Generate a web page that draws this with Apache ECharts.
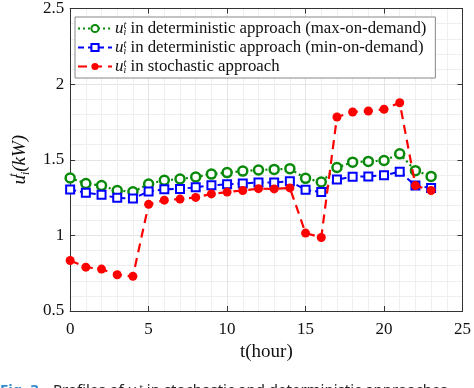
<!DOCTYPE html>
<html>
<head>
<meta charset="utf-8">
<script src="https://cdn.jsdelivr.net/npm/echarts@6/dist/echarts.min.js"></script>
<style>html,body{margin:0;padding:0;background:#fff;}#c{width:474px;height:388px;}</style>
</head>
<body>
<div id="c"></div>
<script>
const hours = [0,1,2,3,4,5,6,7,8,9,10,11,12,13,14,15,16,17,18,19,20,21,22,23];
const detMax = [1.379,1.343,1.329,1.297,1.288,1.340,1.364,1.373,1.386,1.405,1.415,1.425,1.432,1.436,1.441,1.377,1.353,1.449,1.484,1.489,1.495,1.539,1.428,1.390];
const detMin = [1.303,1.281,1.268,1.248,1.244,1.290,1.305,1.307,1.318,1.331,1.338,1.343,1.350,1.350,1.358,1.301,1.286,1.369,1.388,1.390,1.397,1.421,1.329,1.314];
const stoch = [0.834,0.790,0.777,0.740,0.729,1.205,1.233,1.240,1.251,1.274,1.286,1.297,1.309,1.307,1.314,1.015,0.986,1.783,1.816,1.822,1.834,1.877,1.329,1.297];
const xTicks = [0,5,10,15,20,25];
const yTicks = [0.5,1,1.5,2,2.5];
const legendNames = ['max','min','sto'];
const legendTexts = {
  max: ' in deterministic approach (max-on-demand)',
  min: ' in deterministic approach (min-on-demand)',
  sto: ' in stochastic approach'
};

const SERIF = '"Liberation Serif","DejaVu Serif",serif';
const LH = 17;
const richMath = {
  u: {fontFamily: SERIF, fontStyle: 'italic', fontSize: 17, color: '#111', verticalAlign: 'middle', lineHeight: LH},
  sup: {fontFamily: SERIF, fontStyle: 'italic', fontSize: 10, color: '#111', verticalAlign: 'top', width: 0, align: 'left', lineHeight: LH},
  sub: {fontFamily: SERIF, fontStyle: 'italic', fontSize: 10, color: '#111', verticalAlign: 'bottom', lineHeight: LH},
  t: {fontFamily: SERIF, fontSize: 16.8, color: '#111', verticalAlign: 'middle', lineHeight: LH}
};
const richY = {
  u: Object.assign({}, richMath.u, {fontSize: 19, lineHeight: 24}),
  sup: Object.assign({}, richMath.sup, {fontSize: 12, lineHeight: 24}),
  sub: Object.assign({}, richMath.sub, {fontSize: 12, lineHeight: 24}),
  t: Object.assign({}, richMath.t, {fontSize: 19, fontStyle: 'italic', lineHeight: 24})
};

function pairs(vals){ return hours.map((h,i)=>[h, vals[i]]); }

const chart = echarts.init(document.getElementById('c'), null, {renderer: 'canvas'});
const gridLine = {show: true, lineStyle: {color: '#e4e4e4', width: 1}};
const minorGrid = {show: true, lineStyle: {color: '#efefef', width: 1}};
const axisLine = {show: true, onZero: false, lineStyle: {color: '#333', width: 1}};

chart.setOption({
  animation: false,
  backgroundColor: '#fff',
  grid: {left: 65, right: 10, top: 6, bottom: 77, containLabel: false},
  legend: {
    data: legendNames,
    orient: 'vertical',
    left: 75, top: 17,
    itemWidth: 34, itemHeight: 9, itemGap: 2,
    padding: [3, 9, 3, 2],
    backgroundColor: '#fff',
    borderColor: '#888', borderWidth: 1,
    formatter: function(n){ return '{u|u}{sup|t}{sub|i}{t|' + legendTexts[n] + '}'; },
    textStyle: {rich: richMath, padding: [0,0,0,-2]}
  },
  xAxis: [{
    type: 'value', min: 0, max: 25, interval: 5,
    name: 't(hour)', nameLocation: 'middle', nameGap: 29,
    nameTextStyle: {fontFamily: SERIF, fontSize: 19, color: '#111'},
    axisLine: axisLine,
    axisTick: {show: true, inside: true, length: 5, lineStyle: {color: '#333'}},
    axisLabel: {fontFamily: SERIF, fontSize: 17, color: '#111', margin: 10,
      customValues: xTicks, formatter: v => String(v)},
    splitLine: gridLine,
    minorTick: {show: false, splitNumber: 5},
    minorSplitLine: minorGrid
  }, {
    type: 'value', min: 0, max: 25, interval: 5, position: 'top',
    axisLine: axisLine,
    axisTick: {show: true, inside: true, length: 5, lineStyle: {color: '#333'}},
    axisLabel: {show: false}, splitLine: {show: false}
  }],
  yAxis: [{
    type: 'value', min: 0.5, max: 2.5, interval: 0.5,
    name: '{u|u}{sup|t}{sub|i}{t|(kW)}', nameLocation: 'middle', nameGap: 33, nameRotate: 90,
    nameTextStyle: {rich: richY},
    axisLine: axisLine,
    axisTick: {show: true, inside: true, length: 5, lineStyle: {color: '#333'}},
    axisLabel: {fontFamily: SERIF, fontSize: 17, color: '#111', margin: 6,
      customValues: yTicks, formatter: v => String(v)},
    splitLine: gridLine,
    minorTick: {show: false, splitNumber: 5},
    minorSplitLine: minorGrid
  }, {
    type: 'value', min: 0.5, max: 2.5, interval: 0.5, position: 'right',
    axisLine: axisLine,
    axisTick: {show: true, inside: true, length: 5, lineStyle: {color: '#333'}},
    axisLabel: {show: false}, splitLine: {show: false}
  }],
  series: [{
    name: 'max', type: 'line', data: pairs(detMax), z: 3,
    symbol: 'circle', symbolSize: 9,
    lineStyle: {color: '#0a8a0a', width: 2.2, type: [2, 3]},
    itemStyle: {color: '#fff', borderColor: '#0a8a0a', borderWidth: 2.5}
  }, {
    name: 'min', type: 'line', data: pairs(detMin), z: 4,
    symbol: 'rect', symbolSize: 8,
    lineStyle: {color: '#0000ff', width: 2, type: [6, 4]},
    itemStyle: {color: '#fff', borderColor: '#0000ff', borderWidth: 2}
  }, {
    name: 'sto', type: 'line', data: pairs(stoch), z: 5,
    symbol: 'circle', symbolSize: 9,
    lineStyle: {color: '#ff0000', width: 2.2, type: [9, 6]},
    itemStyle: {color: '#ff0000', borderColor: '#ff0000', borderWidth: 0}
  }],
  graphic: [{
    type: 'text', left: 0, top: 383,
    style: {text: 'Fig. 3.', fill: '#2f8bd0', font: 'bold 15px "Noto Sans", sans-serif'}
  }, {
    type: 'text', left: 53, top: 383,
    style: {text: 'Profiles of u\u1D62\u1D57 in stochastic and deterministic approaches', fill: '#222', font: '15px "Noto Sans", sans-serif'}
  }]
});
</script>
</body>
</html>
